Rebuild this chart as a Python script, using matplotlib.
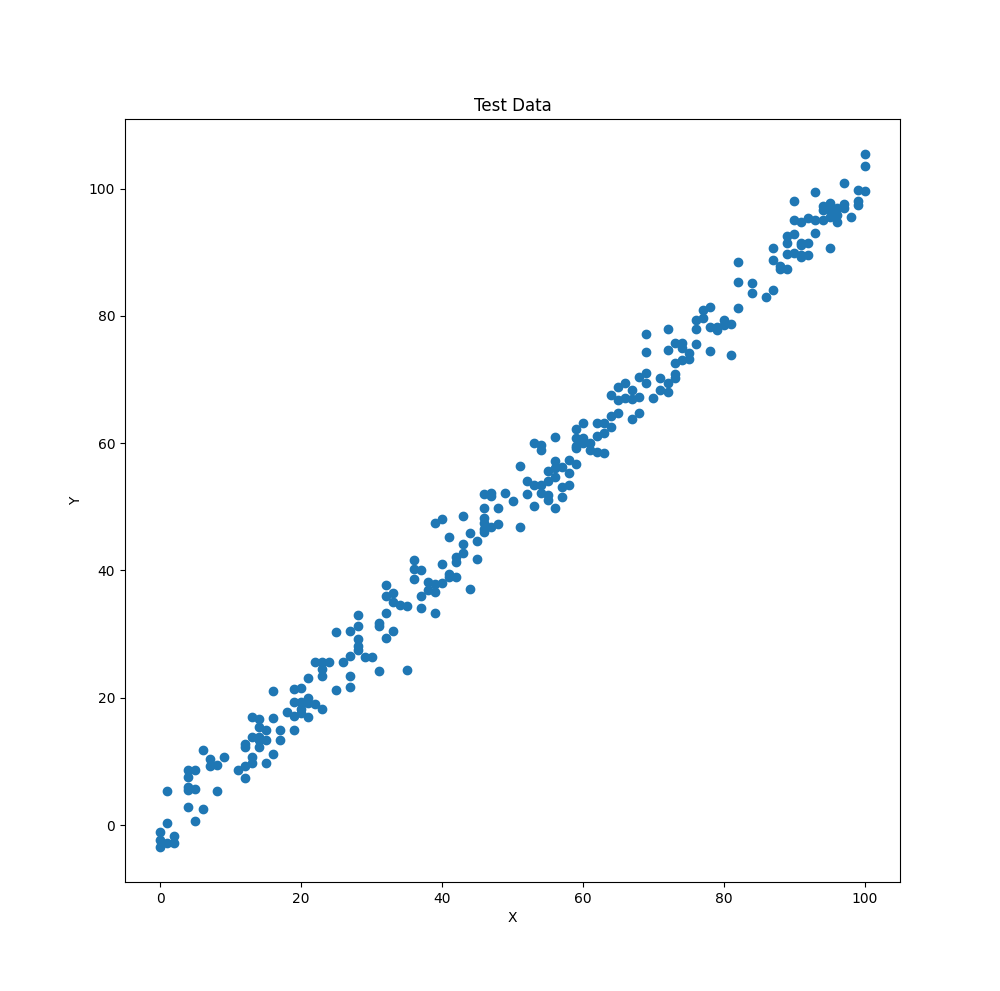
import matplotlib
matplotlib.use("Agg")
import matplotlib.pyplot as plt

# values
x_vals = [0, 0, 0, 1, 1, 1, 2, 2,
          4, 4, 4, 4, 4, 5, 5, 5, 6, 6, 7, 7, 8, 8, 9,
          11, 12, 12, 12, 12, 13, 13, 13, 13, 14, 14, 14, 14, 14,
          15, 15, 15, 16, 16, 16, 17, 17, 18,
          19, 19, 19, 19, 20, 20, 20, 20, 21, 21, 21, 21, 22, 22,
          23, 23, 23, 23, 24, 25, 25, 26, 27, 27, 27, 27,
          28, 28, 28, 28, 28, 29, 30, 31, 31, 31, 32, 32, 32, 32,
          33, 33, 33, 34, 35, 35, 36, 36, 36, 37, 37, 37, 38, 38,
          39, 39, 39, 39, 40, 40, 40, 41, 41, 41, 42, 42, 42,
          43, 43, 43, 44, 44, 45, 45, 46, 46, 46, 46, 46, 46,
          47, 47, 47, 48, 48, 49, 50, 51, 51, 52, 52, 53, 53, 53,
          54, 54, 54, 54, 55, 55, 55, 55, 56, 56, 56, 56, 56,
          57, 57, 57, 58, 58, 58, 59, 59, 59, 59, 59, 60, 60, 60,
          61, 61, 62, 62, 62, 63, 63, 63, 64, 64, 64, 65, 65, 65,
          66, 66, 67, 67, 67, 68, 68, 68, 69, 69, 69, 69, 70, 71, 71,
          72, 72, 72, 72, 73, 73, 73, 73, 74, 74, 74, 75, 75,
          76, 76, 76, 77, 77, 78, 78, 78, 79, 79, 80, 80, 81, 81,
          82, 82, 82, 84, 84, 86, 87, 87, 87, 88, 88, 89, 89, 89, 89,
          90, 90, 90, 90, 91, 91, 91, 91, 91, 92, 92, 92, 93, 93, 93,
          94, 94, 94, 95, 95, 95, 95, 96, 96, 96, 97, 97, 97, 98,
          99, 99, 99, 100, 100, 100]
y_vals = [-3.5, -2.4, -1.1, -2.8, 0.3, 5.3, -1.7, -2.8,
          2.8, 5.5, 6.0, 7.5, 8.6, 8.6, 5.6, 0.6, 11.8, 2.5, 10.4, 9.3, 9.4, 5.3, 10.7,
          8.6, 7.4, 9.3, 12.3, 12.8, 17.0, 13.8, 10.7, 9.7, 16.7, 15.4, 13.8, 13.4, 12.3,
          14.9, 13.4, 9.7, 21.1, 16.8, 11.2, 14.9, 13.4, 17.8,
          14.9, 17.1, 19.3, 21.4, 21.5, 19.3, 18.2, 17.6, 20.0, 19.2, 17.0, 23.1, 19.0, 25.6,
          18.2, 23.4, 24.5, 25.6, 25.6, 21.2, 30.3, 25.6, 26.6, 23.4, 21.7, 30.5,
          33.0, 31.3, 29.2, 28.1, 27.5, 26.4, 26.4, 24.2, 31.8, 31.3, 33.3, 29.4, 36.0, 37.7,
          36.5, 35.1, 30.5, 34.6, 34.4, 24.4, 41.7, 40.3, 38.7, 40.0, 36.0, 34.1, 38.2, 36.9,
          37.9, 36.6, 33.3, 47.5, 48.1, 38.0, 41.0, 45.3, 39.5, 39.0, 39.0, 41.4, 42.1,
          48.6, 44.2, 42.8, 45.9, 37.1, 44.7, 41.8, 52.0, 49.8, 48.3, 47.5, 46.5, 46.1,
          52.2, 51.7, 46.9, 49.8, 47.3, 52.2, 50.9, 56.4, 46.9, 54.1, 52.0, 60.1, 53.5, 50.2,
          59.7, 59.0, 53.5, 52.2, 55.7, 54.0, 51.9, 51.1, 61.0, 57.2, 56.1, 54.7, 49.8,
          56.3, 53.1, 51.6, 57.4, 55.3, 53.5, 56.8, 62.3, 60.8, 59.6, 59.3, 63.2, 60.8, 60.1,
          60.1, 59.0, 63.2, 61.2, 58.6, 63.2, 61.6, 58.5, 64.3, 62.6, 67.6, 68.9, 66.8, 64.8,
          69.5, 67.1, 68.4, 67.0, 63.8, 70.4, 67.3, 64.8, 77.2, 74.4, 71.1, 69.5, 67.1, 70.3, 68.4,
          78.0, 74.7, 69.5, 68.1, 75.8, 72.6, 70.9, 70.3, 75.8, 75.0, 73.0, 74.2, 73.3,
          78.0, 79.4, 75.6, 81.0, 79.6, 81.4, 78.3, 74.5, 78.3, 77.8, 79.4, 78.6, 78.8, 73.9,
          88.5, 85.4, 81.3, 85.2, 83.6, 82.9, 84.0, 90.6, 88.8, 87.9, 87.3, 87.4, 89.8, 91.5, 92.5,
          92.9, 95.1, 98.1, 89.9, 94.8, 91.5, 91.2, 89.6, 89.2, 95.4, 91.4, 89.6, 99.4, 95.1, 93.1,
          95.1, 96.7, 97.2, 97.8, 96.7, 95.6, 90.7, 97.0, 95.9, 94.8, 100.9, 97.6, 97.0, 95.6,
          99.8, 98.0, 97.5, 105.5, 103.5, 99.7]

fig, ax = plt.subplots(figsize=(10, 9.91), dpi=100)
ax.scatter(x_vals, y_vals)
ax.set_title("Test Data")
ax.set_xlabel("X")
ax.set_ylabel("Y")
fig.savefig("out.png")
